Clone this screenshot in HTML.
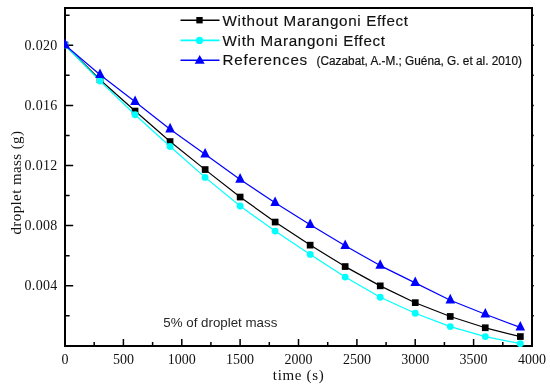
<!DOCTYPE html>
<html lang="en"><head><meta charset="utf-8"><title>Droplet mass vs time</title>
<style>html,body{margin:0;padding:0;background:#fff;}body{width:550px;height:386px;overflow:hidden;}svg{display:block;}.ser{font-family:"Liberation Serif",serif;fill:#111;}.san{font-family:"Liberation Sans",sans-serif;fill:#111;}</style></head><body>
<svg width="550" height="386" viewBox="0 0 550 386">
<rect width="550" height="386" fill="#fff"/>
<g stroke="#000" fill="none">
<line x1="65.0" y1="7.0" x2="65.0" y2="347.0" stroke-width="2"/>
<line x1="64.0" y1="346.0" x2="533.0" y2="346.0" stroke-width="2"/>
<line x1="64.0" y1="8.0" x2="533.0" y2="8.0" stroke-width="2"/>
<line x1="532.0" y1="7.0" x2="532.0" y2="347.0" stroke-width="2"/>
<path d="M65.0,346.0v-7M94.2,346.0v-4M123.4,346.0v-7M152.6,346.0v-4M181.8,346.0v-7M210.9,346.0v-4M240.1,346.0v-7M269.3,346.0v-4M298.5,346.0v-7M327.7,346.0v-4M356.9,346.0v-7M386.1,346.0v-4M415.2,346.0v-7M444.4,346.0v-4M473.6,346.0v-7M502.8,346.0v-4M532.0,346.0v-7M65.0,315.8h4.6M532.0,315.8h1.8M65.0,285.7h8.2M532.0,285.7h1.8M65.0,255.7h4.6M532.0,255.7h1.8M65.0,225.6h8.2M532.0,225.6h1.8M65.0,195.6h4.6M532.0,195.6h1.8M65.0,165.5h8.2M532.0,165.5h1.8M65.0,135.5h4.6M532.0,135.5h1.8M65.0,105.4h8.2M532.0,105.4h1.8M65.0,75.3h4.6M532.0,75.3h1.8M65.0,45.3h8.2M532.0,45.3h1.8M65.0,15.3h4.6M532.0,15.3h1.8" stroke-width="1.5"/>
</g>
<defs><clipPath id="pc"><rect x="64" y="7" width="469" height="340"/></clipPath></defs>
<g clip-path="url(#pc)">
<polyline points="65.0,45.0 100.0,79.7 135.1,111.0 170.1,141.5 205.1,169.6 240.1,197.0 275.1,222.0 310.2,245.1 345.2,266.6 380.2,285.9 415.2,302.7 450.3,316.5 485.3,327.8 520.3,336.6" fill="none" stroke="#000" stroke-width="1.2" stroke-linejoin="round"/>
<rect x="61.6" y="41.6" width="6.7" height="6.7" fill="#000"/>
<rect x="96.7" y="76.4" width="6.7" height="6.7" fill="#000"/>
<rect x="131.7" y="107.7" width="6.7" height="6.7" fill="#000"/>
<rect x="166.7" y="138.2" width="6.7" height="6.7" fill="#000"/>
<rect x="201.8" y="166.2" width="6.7" height="6.7" fill="#000"/>
<rect x="236.8" y="193.7" width="6.7" height="6.7" fill="#000"/>
<rect x="271.8" y="218.7" width="6.7" height="6.7" fill="#000"/>
<rect x="306.8" y="241.8" width="6.7" height="6.7" fill="#000"/>
<rect x="341.8" y="263.2" width="6.7" height="6.7" fill="#000"/>
<rect x="376.9" y="282.5" width="6.7" height="6.7" fill="#000"/>
<rect x="411.9" y="299.3" width="6.7" height="6.7" fill="#000"/>
<rect x="446.9" y="313.1" width="6.7" height="6.7" fill="#000"/>
<rect x="481.9" y="324.4" width="6.7" height="6.7" fill="#000"/>
<rect x="517.0" y="333.2" width="6.7" height="6.7" fill="#000"/>
<polyline points="65.0,45.0 100.0,81.0 135.1,114.7 170.1,146.5 205.1,177.4 240.1,206.0 275.1,231.1 310.2,254.4 345.2,277.1 380.2,297.2 415.2,313.3 450.3,326.6 485.3,336.6 520.3,343.7" fill="none" stroke="#00ffff" stroke-width="1.2" stroke-linejoin="round"/>
<circle cx="65.0" cy="45.0" r="3.45" fill="#00ffff"/>
<circle cx="100.0" cy="81.0" r="3.45" fill="#00ffff"/>
<circle cx="135.1" cy="114.7" r="3.45" fill="#00ffff"/>
<circle cx="170.1" cy="146.5" r="3.45" fill="#00ffff"/>
<circle cx="205.1" cy="177.4" r="3.45" fill="#00ffff"/>
<circle cx="240.1" cy="206.0" r="3.45" fill="#00ffff"/>
<circle cx="275.1" cy="231.1" r="3.45" fill="#00ffff"/>
<circle cx="310.2" cy="254.4" r="3.45" fill="#00ffff"/>
<circle cx="345.2" cy="277.1" r="3.45" fill="#00ffff"/>
<circle cx="380.2" cy="297.2" r="3.45" fill="#00ffff"/>
<circle cx="415.2" cy="313.3" r="3.45" fill="#00ffff"/>
<circle cx="450.3" cy="326.6" r="3.45" fill="#00ffff"/>
<circle cx="485.3" cy="336.6" r="3.45" fill="#00ffff"/>
<circle cx="520.3" cy="343.7" r="3.45" fill="#00ffff"/>
<polyline points="65.0,45.0 100.0,74.8 135.1,101.8 170.1,129.2 205.1,154.3 240.1,179.5 275.1,202.8 310.2,224.8 345.2,245.8 380.2,265.6 415.2,282.9 450.3,300.2 485.3,314.3 520.3,327.4" fill="none" stroke="#0000ff" stroke-width="1.2" stroke-linejoin="round"/>
<polygon points="65.0,38.6 69.8,48.2 60.2,48.2" fill="#0000ff"/>
<polygon points="100.0,68.4 104.8,78.0 95.2,78.0" fill="#0000ff"/>
<polygon points="135.1,95.4 139.9,105.0 130.2,105.0" fill="#0000ff"/>
<polygon points="170.1,122.8 174.9,132.4 165.3,132.4" fill="#0000ff"/>
<polygon points="205.1,147.9 209.9,157.5 200.3,157.5" fill="#0000ff"/>
<polygon points="240.1,173.1 244.9,182.7 235.3,182.7" fill="#0000ff"/>
<polygon points="275.1,196.4 279.9,206.0 270.3,206.0" fill="#0000ff"/>
<polygon points="310.2,218.4 315.0,228.0 305.4,228.0" fill="#0000ff"/>
<polygon points="345.2,239.4 350.0,249.0 340.4,249.0" fill="#0000ff"/>
<polygon points="380.2,259.2 385.0,268.8 375.4,268.8" fill="#0000ff"/>
<polygon points="415.2,276.5 420.1,286.1 410.4,286.1" fill="#0000ff"/>
<polygon points="450.3,293.8 455.1,303.4 445.5,303.4" fill="#0000ff"/>
<polygon points="485.3,307.9 490.1,317.5 480.5,317.5" fill="#0000ff"/>
<polygon points="520.3,321.0 525.1,330.6 515.5,330.6" fill="#0000ff"/>
</g>
<text class="ser" x="65.0" y="364.4" font-size="14" text-anchor="middle">0</text>
<text class="ser" x="123.4" y="364.4" font-size="14" text-anchor="middle">500</text>
<text class="ser" x="181.8" y="364.4" font-size="14" text-anchor="middle">1000</text>
<text class="ser" x="240.1" y="364.4" font-size="14" text-anchor="middle">1500</text>
<text class="ser" x="298.5" y="364.4" font-size="14" text-anchor="middle">2000</text>
<text class="ser" x="356.9" y="364.4" font-size="14" text-anchor="middle">2500</text>
<text class="ser" x="415.2" y="364.4" font-size="14" text-anchor="middle">3000</text>
<text class="ser" x="473.6" y="364.4" font-size="14" text-anchor="middle">3500</text>
<text class="ser" x="532.0" y="364.4" font-size="14" text-anchor="middle">4000</text>
<text class="ser" x="57.2" y="289.9" font-size="14" text-anchor="end" textLength="32.6" lengthAdjust="spacing">0.004</text>
<text class="ser" x="57.2" y="229.8" font-size="14" text-anchor="end" textLength="32.6" lengthAdjust="spacing">0.008</text>
<text class="ser" x="57.2" y="169.7" font-size="14" text-anchor="end" textLength="32.6" lengthAdjust="spacing">0.012</text>
<text class="ser" x="57.2" y="109.6" font-size="14" text-anchor="end" textLength="32.6" lengthAdjust="spacing">0.016</text>
<text class="ser" x="57.2" y="49.5" font-size="14" text-anchor="end" textLength="32.6" lengthAdjust="spacing">0.020</text>
<text class="ser" x="298.3" y="379.7" font-size="15" text-anchor="middle" textLength="51" lengthAdjust="spacing">time (s)</text>
<text class="ser" transform="translate(20.7,182.8) rotate(-90)" font-size="15" text-anchor="middle" textLength="103.5" lengthAdjust="spacing">droplet mass (g)</text>
<line x1="180.5" y1="20.2" x2="219.5" y2="20.2" stroke="#000" stroke-width="1.6"/>
<rect x="196.3" y="17.0" width="6.4" height="6.4" fill="#000"/>
<text class="san" x="222.6" y="25.7" font-size="15.2" stroke="#111" stroke-width="0.15" textLength="185.5" lengthAdjust="spacing">Without Marangoni Effect</text>
<line x1="180.5" y1="40.4" x2="219.5" y2="40.4" stroke="#00ffff" stroke-width="1.6"/>
<circle cx="199.5" cy="40.4" r="3.6" fill="#00ffff"/>
<text class="san" x="222.6" y="45.7" font-size="15.2" stroke="#111" stroke-width="0.15" textLength="162.5" lengthAdjust="spacing">With Marangoni Effect</text>
<line x1="180.5" y1="60.2" x2="219.5" y2="60.2" stroke="#0000ff" stroke-width="1.6"/>
<polygon points="199.7,54.9 204.7,63.7 194.7,63.7" fill="#0000ff"/>
<text class="san" x="222.6" y="64.8" font-size="15.2" stroke="#111" stroke-width="0.15" textLength="84.6" lengthAdjust="spacing">References</text>
<text class="san" x="316.6" y="64.5" font-size="12" textLength="205.3" lengthAdjust="spacingAndGlyphs" stroke="#111" stroke-width="0.2">(Cazabat, A.-M.; Guéna, G. et al. 2010)</text>
<text class="san" x="163.3" y="327" font-size="12.8" textLength="114" lengthAdjust="spacingAndGlyphs" style="fill:#262626">5% of droplet mass</text>
</svg></body></html>
